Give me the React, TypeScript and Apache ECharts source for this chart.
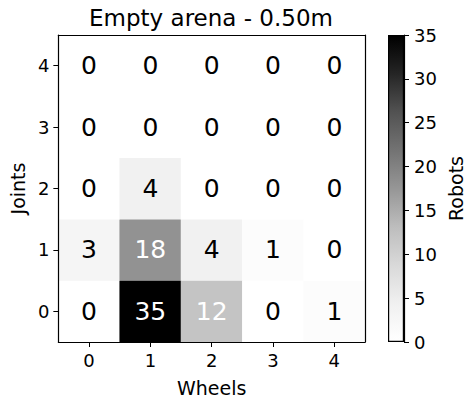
import { useEffect, useRef } from 'react'
import * as echarts from 'echarts'

const wheels = ['0', '1', '2', '3', '4']
const joints = ['0', '1', '2', '3', '4']
// robots per (joints row, wheels column), row 0 = joints 0
const robots = [
  [0, 35, 12, 0, 1],
  [3, 18, 4, 1, 0],
  [0, 4, 0, 0, 0],
  [0, 0, 0, 0, 0],
  [0, 0, 0, 0, 0],
]
const colorbarMax = 35
const colorbarTicks = [0, 5, 10, 15, 20, 25, 30, 35]

// matplotlib "Greys"
const greys = ['#ffffff', '#f0f0f0', '#d9d9d9', '#bdbdbd', '#969696', '#737373', '#525252', '#252525', '#000000']

const FONT = 'DejaVu Sans'

export default function App() {
  const chartRef = useRef<HTMLDivElement>(null)

  useEffect(() => {
    if (!chartRef.current) return
    const chart = echarts.init(chartRef.current, undefined, { renderer: 'svg' })

    const cells: any[] = []
    robots.forEach((row, j) => {
      row.forEach((v, w) => {
        cells.push({
          value: [w, j, v],
          label: { color: v > 10 ? '#ffffff' : '#000000' },
        })
      })
    })

    const axisLine = { show: true, lineStyle: { color: '#000', width: 1.2 } }
    const tickLabel = { color: '#000', fontSize: 18, fontFamily: FONT }
    const axisName = { color: '#000', fontSize: 19, fontFamily: FONT }

    const option = {
      animation: false,
      textStyle: { fontFamily: FONT },
      title: {
        text: 'Empty arena - 0.50m',
        left: 211,
        top: 6,
        textAlign: 'center',
        padding: 0,
        textStyle: { color: '#000', fontSize: 23, fontWeight: 'normal', fontFamily: FONT },
      },
      grid: [
        { left: 57, top: 35, width: 308, height: 307, show: false },
        { left: 388, top: 35, width: 16, height: 307, show: false },
      ],
      xAxis: [
        {
          type: 'category',
          gridIndex: 0,
          data: wheels,
          name: 'Wheels',
          nameLocation: 'middle',
          nameGap: 36,
          nameTextStyle: axisName,
          axisLine,
          axisTick: { show: true, alignWithLabel: true, length: 5, lineStyle: { color: '#000' } },
          axisLabel: { ...tickLabel, margin: 9 },
          splitLine: { show: false },
          splitArea: { show: false },
          z: 5,
        },
        {
          type: 'category',
          gridIndex: 0,
          position: 'top',
          data: wheels,
          axisLine,
          axisTick: { show: false },
          axisLabel: { show: false },
          z: 5,
        },
        { type: 'category', gridIndex: 1, data: ['c'], show: false },
      ],
      yAxis: [
        {
          type: 'category',
          gridIndex: 0,
          data: joints,
          name: 'Joints',
          nameLocation: 'middle',
          nameGap: 31,
          nameTextStyle: axisName,
          axisLine,
          axisTick: { show: true, alignWithLabel: true, length: 5, lineStyle: { color: '#000' } },
          axisLabel: { ...tickLabel, margin: 9 },
          splitLine: { show: false },
          splitArea: { show: false },
          z: 5,
        },
        {
          type: 'category',
          gridIndex: 0,
          position: 'right',
          data: joints,
          axisLine,
          axisTick: { show: false },
          axisLabel: { show: false },
          z: 5,
        },
        {
          type: 'value',
          gridIndex: 1,
          position: 'right',
          min: 0,
          max: colorbarMax,
          interval: 5,
          name: 'Robots',
          nameLocation: 'middle',
          nameRotate: 90,
          nameGap: 42,
          nameTextStyle: axisName,
          axisLine,
          axisTick: { show: true, length: 5, lineStyle: { color: '#000' } },
          axisLabel: {
            ...tickLabel,
            margin: 10,
            formatter: (v: number) => (colorbarTicks.includes(v) ? String(v) : ''),
          },
          splitLine: { show: false },
          z: 5,
        },
      ],
      visualMap: {
        show: false,
        seriesIndex: 0,
        min: 0,
        max: colorbarMax,
        inRange: { color: greys },
      },
      series: [
        {
          type: 'heatmap',
          xAxisIndex: 0,
          yAxisIndex: 0,
          data: cells,
          label: { show: true, fontSize: 25, fontFamily: FONT },
          itemStyle: { borderWidth: 0 },
          emphasis: { disabled: true },
          z: 1,
        },
        {
          type: 'bar',
          xAxisIndex: 2,
          yAxisIndex: 2,
          data: [colorbarMax],
          barWidth: '100%',
          itemStyle: {
            color: new echarts.graphic.LinearGradient(
              0, 0, 0, 1,
              greys.slice().reverse().map((c, i) => ({ offset: i / (greys.length - 1), color: c }))
            ),
            borderColor: '#000',
            borderWidth: 1.2,
          },
          silent: true,
        },
      ],
    }

    chart.setOption(option)
    return () => chart.dispose()
  }, [])

  return (
    <div
      ref={chartRef}
      style={{ position: 'absolute', left: 0, top: 0, width: 474, height: 407, background: '#fff' }}
    />
  )
}
